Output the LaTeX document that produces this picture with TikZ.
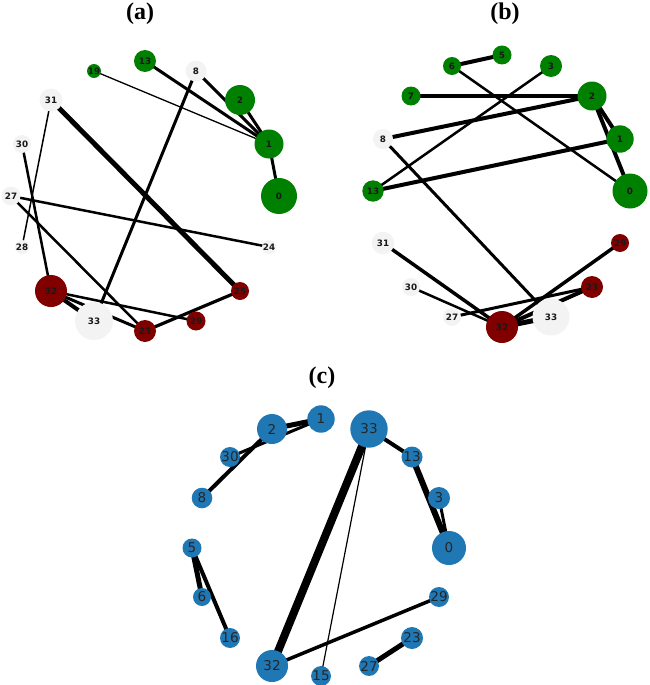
\documentclass[tikz,border=0pt]{standalone}
\usepackage{fontspec}
\setmainfont{Liberation Serif}
\newfontfamily\dvs{DejaVu Sans}
\usetikzlibrary{backgrounds}
\definecolor{ngreen}{HTML}{008000}
\definecolor{nred}{HTML}{800000}
\definecolor{ngray}{HTML}{F3F3F3}
\definecolor{nblue}{HTML}{1F77B4}
\tikzset{
  vtx/.style={circle, inner sep=0pt, minimum size=2*#1 pt, font=\dvs\bfseries\fontsize{8.8}{8.8}\selectfont, text=black!90},
  gv/.style={vtx=#1, fill=ngreen},
  rv/.style={vtx=#1, fill=nred},
  wv/.style={vtx=#1, fill=ngray},
  bv/.style={circle, inner sep=0pt, minimum size=2*#1 pt, fill=nblue, font=\dvs\fontsize{13.5}{13.5}\selectfont, text=black!85},
  ed/.style={draw=black, line width=#1 pt},
  ttl/.style={font=\bfseries\fontsize{24}{24}\selectfont}
}
\begin{document}
\begin{tikzpicture}[x=1pt,y=-1pt]
\useasboundingbox (0,0) rectangle (649,685);
% titles
\node[ttl] (ta) at (140,14) {(a)};
\node[ttl] (tb) at (505,14) {(b)};
\node[ttl] (tc) at (322,378) {(c)};
% ---------- (a) ----------
\node[gv=6.5] (a19) at (94,71) {19};
\node[gv=11] (a13) at (145,61) {13};
\node[wv=10.5] (a8) at (196,71) {8};
\node[wv=11.5] (a31) at (51,100) {31};
\node[gv=15] (a2) at (240,100) {2};
\node[wv=9] (a30) at (22,144) {30};
\node[gv=14.5] (a1) at (269,144) {1};
\node[gv=18] (a0) at (279,196) {0};
\node[wv=9.5] (a27) at (11,196) {27};
\node[wv=7] (a28) at (22,247) {28};
\node[wv=7] (a24) at (269,247) {24};
\node[rv=16] (a32) at (51,291) {32};
\node[rv=9] (a25) at (240,291) {25};
\node[wv=19] (a33) at (94,321) {33};
\node[rv=9.5] (a29) at (196,321) {29};
\node[rv=11] (a23) at (145,331) {23};
% ---------- (b) ----------
\node[gv=9.5] (b5) at (502,55) {5};
\node[gv=9] (b6) at (452,66) {6};
\node[gv=11] (b3) at (551,66) {3};
\node[gv=9.5] (b7) at (411,96) {7};
\node[gv=14.5] (b2) at (592,96) {2};
\node[wv=10] (b8) at (383,139) {8};
\node[gv=13.7] (b1) at (620,139) {1};
\node[gv=10.7] (b13) at (373,191) {13};
\node[gv=17.5] (b0) at (630,191) {0};
\node[wv=11.3] (b31) at (383,243) {31};
\node[rv=9] (b29) at (620,243) {29};
\node[wv=9] (b30) at (411,287) {30};
\node[rv=11] (b23) at (592,287) {23};
\node[wv=9] (b27) at (452,317) {27};
\node[wv=18.5] (b33) at (551,317) {33};
\node[rv=16] (b32) at (502,327) {32};
% ---------- (c) ----------
\node[bv=13.7] (c1) at (321,419) {1};
\node[bv=15] (c2) at (272,429) {2};
\node[bv=18.7] (c33) at (369,429) {33};
\node[bv=9] (c30) at (230,457) {30};
\node[bv=10.5] (c13) at (412,457) {13};
\node[bv=10.3] (c8) at (202,498) {8};
\node[bv=11] (c3) at (439,498) {3};
\node[bv=9.5] (c5) at (192,548) {5};
\node[bv=17] (c0) at (449,548) {0};
\node[bv=9] (c6) at (202,597) {6};
\node[bv=9.5] (c29) at (439,597) {29};
\node[bv=8] (c16) at (230,638) {16};
\node[bv=11] (c23) at (412,638) {23};
\node[bv=16] (c32) at (272,666) {32};
\node[bv=9.5] (c27) at (369,666) {27};
\node[bv=8] (c15) at (321,676) {15};
\begin{scope}[on background layer]
% (a)
\draw[ed=1.3] (a19.center) -- (a1.center);
\draw[ed=3] (a13.center) -- (a1.center);
\draw[ed=3] (a8.center) -- (a1.center);
\draw[ed=3] (a2.center) -- (a1.center);
\draw[ed=3] (a1.center) -- (a0.center);
\draw[ed=3] (a8.center) -- (a33.center);
\draw[ed=5] (a31.center) -- (a25.center);
\draw[ed=1.5] (a31.center) -- (a28.center);
\draw[ed=2.5] (a30.center) -- (a32.center);
\draw[ed=2.5] (a27.center) -- (a24.center);
\draw[ed=2.5] (a27.center) -- (a23.center);
\draw[ed=2.5] (a32.center) -- (a29.center);
\draw[ed=4] (a32.center) -- (a33.center);
\draw[ed=3] (a32.center) -- (a23.center);
\draw[ed=3.2] (a23.center) -- (a25.center);
% (b)
\draw[ed=4] (b6.center) -- (b5.center);
\draw[ed=2.5] (b6.center) -- (b0.center);
\draw[ed=2.5] (b3.center) -- (b13.center);
\draw[ed=4] (b7.center) -- (b2.center);
\draw[ed=4] (b8.center) -- (b2.center);
\draw[ed=4] (b2.center) -- (b1.center);
\draw[ed=4] (b2.center) -- (b0.center);
\draw[ed=4] (b1.center) -- (b13.center);
\draw[ed=3] (b8.center) -- (b33.center);
\draw[ed=3.5] (b31.center) -- (b32.center);
\draw[ed=2.5] (b30.center) -- (b32.center);
\draw[ed=3] (b27.center) -- (b23.center);
\draw[ed=3.5] (b29.center) -- (b32.center);
\draw[ed=4] (b32.center) -- (b23.center);
\draw[ed=5] (b32.center) -- (b33.center);
% (c)
\draw[ed=5] (c1.center) -- (c2.center);
\draw[ed=3] (c30.center) -- (c1.center);
\draw[ed=4] (c8.center) -- (c2.center);
\draw[ed=8] (c33.center) -- (c32.center);
\draw[ed=1.2] (c33.center) -- (c15.center);
\draw[ed=4] (c33.center) -- (c13.center);
\draw[ed=6] (c13.center) -- (c0.center);
\draw[ed=3] (c3.center) -- (c0.center);
\draw[ed=5] (c5.center) -- (c6.center);
\draw[ed=4] (c5.center) -- (c16.center);
\draw[ed=3.5] (c29.center) -- (c32.center);
\draw[ed=5] (c23.center) -- (c27.center);
\end{scope}
\end{tikzpicture}
\end{document}
